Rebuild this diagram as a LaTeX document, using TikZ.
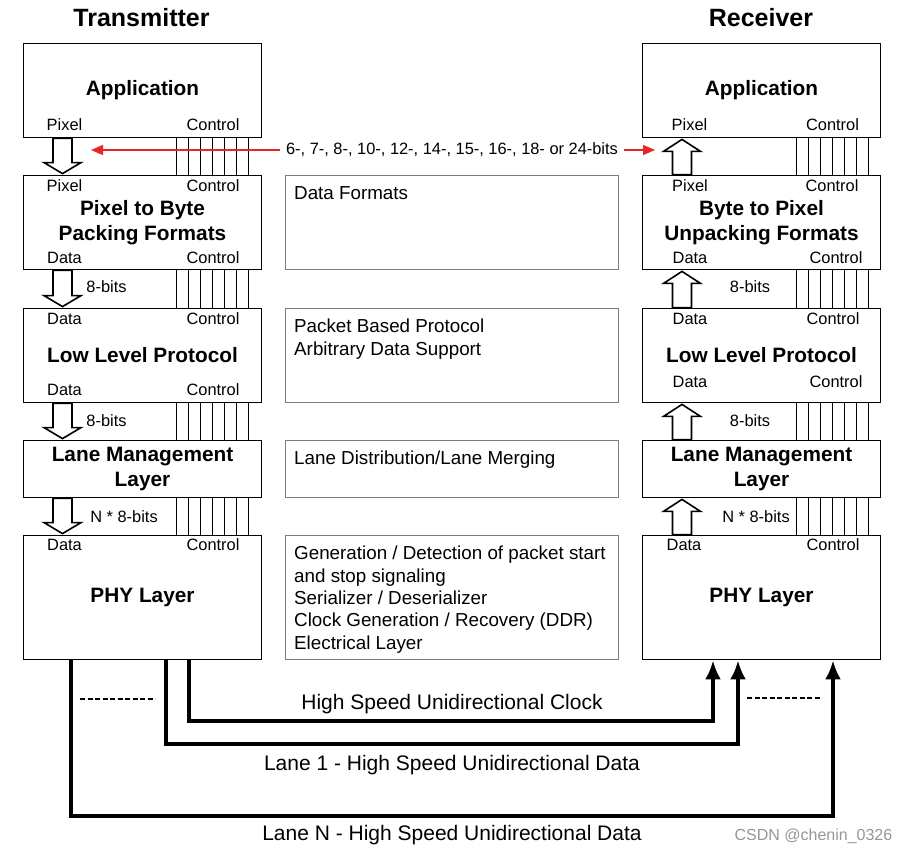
\documentclass[tikz,border=0pt]{standalone}
\usepackage{fontspec}
\setmainfont{Liberation Sans}
\usepackage{tikz}
\usetikzlibrary{positioning}
\usetikzlibrary{calc}
\usetikzlibrary{arrows.meta}
\definecolor{arrowred}{RGB}{232,36,36}
\definecolor{framegray}{RGB}{125,125,125}
\definecolor{markgray}{RGB}{150,150,150}

% hollow block arrows between two layer boxes (#1 column, #2 upper box, #3 lower box)
\newcommand{\bigdown}[3]{%
	\coordinate (ba) at (#2.south -| #1);
	\coordinate (bb) at (#3.north -| #1);
	\draw[blockarr] ([xshift=-9.5pt]ba) -- ([xshift=9.5pt]ba) -- ([xshift=9.5pt,yshift=12pt]bb)
		-- ([xshift=18.5pt,yshift=12pt]bb) -- ([yshift=1pt]bb) -- ([xshift=-18.5pt,yshift=12pt]bb)
		-- ([xshift=-9.5pt,yshift=12pt]bb) -- cycle;}
\newcommand{\bigup}[3]{%
	\coordinate (ba) at (#2.south -| #1);
	\coordinate (bb) at (#3.north -| #1);
	\draw[blockarr] ([xshift=-9.5pt]bb) -- ([xshift=9.5pt]bb) -- ([xshift=9.5pt,yshift=-13pt]ba)
		-- ([xshift=18.5pt,yshift=-13pt]ba) -- ([yshift=-1pt]ba) -- ([xshift=-18.5pt,yshift=-13pt]ba)
		-- ([xshift=-9.5pt,yshift=-13pt]ba) -- cycle;}

\begin{document}
\begin{tikzpicture}[x=1pt,y=-1pt]
	\tikzstyle{layer}=[draw=black, line width=1.8pt, minimum width=238pt, inner sep=0pt, align=center, font=\fontsize{20.8}{25}\selectfont\bfseries]
	\tikzstyle{descbox}=[draw=framegray, line width=1.2pt, minimum width=333pt, inner sep=0pt, anchor=north west]
	\tikzstyle{desc}=[inner sep=0pt, anchor=north west, align=left, font=\fontsize{18.8}{22.3}\selectfont]
	\tikzstyle{lbl}=[inner sep=0pt, font=\fontsize{16.4}{19}\selectfont]
	\tikzstyle{heading}=[font=\fontsize{25}{30}\selectfont\bfseries]
	\tikzstyle{blockarr}=[draw=black, fill=white, line width=1.6pt]
	\tikzstyle{bus}=[line width=0.9pt]
	\tikzstyle{redarr}=[draw=arrowred, line width=1.2pt, -{Triangle[length=12pt,width=10pt]}]
	\tikzstyle{lane}=[line width=3.6pt, -{Latex[length=19pt,width=16pt]}]
	\tikzstyle{lanelbl}=[inner sep=0pt, font=\fontsize{21}{25}\selectfont]
	\tikzstyle{dotline}=[line width=1.8pt, dash pattern=on 5pt off 2.5pt]
	
	\useasboundingbox (0,0) rectangle (908,854);
	\fill[white] (0,0) rectangle (908,854);
	
	\node[heading] (ttitle) at (141.5,18) {Transmitter};
	\node[heading] (rtitle) at (761,18) {Receiver};
	
	% transmitter side
	\node[layer, minimum height=94pt] (tapp) at (142.5,90.5) {Application};
	\node[layer, minimum height=94pt] (tpack) at (142.5,222.5) {Pixel to Byte\\Packing Formats};
	\node[layer, minimum height=94pt] (tllp) at (142.5,355.5) {Low Level Protocol};
	\node[layer, minimum height=57pt] (tlane) at (142.5,469) {Lane Management\\Layer};
	\node[layer, minimum height=124pt] (tphy) at (142.5,597.5) {PHY Layer};
	
	\node[lbl] (tapppix) at (64.5,125) {Pixel};
	\node[lbl] (tappctl) at (213,125) {Control};
	\node[lbl] (tpackpix) at (64.5,186) {Pixel};
	\node[lbl] (tpackctl) at (213,186) {Control};
	\node[lbl] (tpackdat) at (64.5,258) {Data};
	\node[lbl] (tpackctl2) at (213,258) {Control};
	\node[lbl] (tllpdat) at (64.5,319) {Data};
	\node[lbl] (tllpctl) at (213,319) {Control};
	\node[lbl] (tllpdat2) at (64.5,390) {Data};
	\node[lbl] (tllpctl2) at (213,390) {Control};
	\node[lbl] (tphydat) at (64.5,545) {Data};
	\node[lbl] (tphyctl) at (213,545) {Control};
	
	% receiver side
	\node[layer, minimum height=94pt] (rapp) at (761.5,90.5) {Application};
	\node[layer, minimum height=94pt] (rpack) at (761.5,222.5) {Byte to Pixel\\Unpacking Formats};
	\node[layer, minimum height=94pt] (rllp) at (761.5,355.5) {Low Level Protocol};
	\node[layer, minimum height=57pt] (rlane) at (761.5,469) {Lane Management\\Layer};
	\node[layer, minimum height=124pt] (rphy) at (761.5,597.5) {PHY Layer};
	
	\node[lbl] (rapppix) at (689.5,125) {Pixel};
	\node[lbl] (rappctl) at (832.5,125) {Control};
	\node[lbl] (rpackpix) at (690,186) {Pixel};
	\node[lbl] (rpackctl) at (832,186) {Control};
	\node[lbl] (rpackdat) at (690,258) {Data};
	\node[lbl] (rpackctl2) at (836,258) {Control};
	\node[lbl] (rllpdat) at (690,319) {Data};
	\node[lbl] (rllpctl) at (833,319) {Control};
	\node[lbl] (rllpdat2) at (690,382) {Data};
	\node[lbl] (rllpctl2) at (836,382) {Control};
	\node[lbl] (rphydat) at (684,545) {Data};
	\node[lbl] (rphyctl) at (833,545) {Control};
	
	% middle descriptions
	\node[descbox, minimum height=94pt] (dfmt) at (285,175) {};
	\node[desc, below right=11pt and 9pt of dfmt.north west] (dfmttxt) {Data Formats};
	\node[descbox, minimum height=94pt] (dpkt) at (285,308) {};
	\node[desc, below right=11pt and 9pt of dpkt.north west] (dpkttxt) {Packet Based Protocol\\Arbitrary Data Support};
	\node[descbox, minimum height=57pt] (ddist) at (285,440) {};
	\node[desc, below right=11pt and 9pt of ddist.north west] (ddisttxt) {Lane Distribution/Lane Merging};
	\node[descbox, minimum height=124pt] (dphy) at (285,535) {};
	\node[desc, below right=11pt and 9pt of dphy.north west] (dphytxt) {Generation / Detection of packet start\\and stop signaling\\Serializer / Deserializer\\Clock Generation / Recovery (DDR)\\Electrical Layer};
	
	% control buses
	\foreach \hi/\lo in {tapp/tpack,tpack/tllp,tllp/tlane,tlane/tphy}
		\foreach \i in {0,...,6}
			\draw[bus] ($(\hi.south)+({33.5+12*\i},0)$) -- ($(\lo.north)+({33.5+12*\i},0)$);
	\foreach \hi/\lo in {rapp/rpack,rpack/rllp,rllp/rlane,rlane/rphy}
		\foreach \i in {0,...,6}
			\draw[bus] ($(\hi.south)+({34.5+12*\i},0)$) -- ($(\lo.north)+({34.5+12*\i},0)$);
	
	% data paths
	\coordinate (tcol) at (62.5,0);
	\coordinate (rcol) at (682,0);
	\bigdown{tcol}{tapp}{tpack}
	\bigdown{tcol}{tpack}{tllp}
	\bigdown{tcol}{tllp}{tlane}
	\bigdown{tcol}{tlane}{tphy}
	\bigup{rcol}{rapp}{rpack}
	\bigup{rcol}{rpack}{rllp}
	\bigup{rcol}{rllp}{rlane}
	\bigup{rcol}{rlane}{rphy}
	
	\node[lbl] (tbits1) at (106.5,287) {8-bits};
	\node[lbl] (tbits2) at (106.5,421) {8-bits};
	\node[lbl] (tbits3) at (124,517) {N * 8-bits};
	\node[lbl] (rbits1) at (750,287) {8-bits};
	\node[lbl] (rbits2) at (750,421) {8-bits};
	\node[lbl] (rbits3) at (756,517) {N * 8-bits};
	
	% pixel widths
	\node[lbl, inner xsep=6pt] (bits) at (452,150) {6-, 7-, 8-, 10-, 12-, 14-, 15-, 16-, 18- or 24-bits};
	\coordinate (bitsl) at (91,150);
	\coordinate (bitsr) at (655,150);
	\draw[redarr] (bits.west) -- (bitsl);
	\draw[redarr] (bits.east) -- (bitsr);
	
	% high speed lanes
	\coordinate (clkl) at (189,721);
	\coordinate (clkr) at (713,721);
	\coordinate (onel) at (166,744);
	\coordinate (oner) at (738,744);
	\coordinate (nl) at (71,816);
	\coordinate (nr) at (833,816);
	\draw[lane] (tphy.south -| clkl) -- (clkl) -- (clkr) -- (rphy.south -| clkr);
	\draw[lane] (tphy.south -| onel) -- (onel) -- (oner) -- (rphy.south -| oner);
	\draw[lane] (tphy.south -| nl) -- (nl) -- (nr) -- (rphy.south -| nr);
	
	\node[lanelbl] (clklbl) at (452,704) {High Speed Unidirectional Clock};
	\node[lanelbl] (onelbl) at (452,765) {Lane 1 - High Speed Unidirectional Data};
	\node[lanelbl] (nlbl) at (452,835) {Lane N - High Speed Unidirectional Data};
	
	\coordinate (dotl1) at (80,699);
	\coordinate (dotl2) at (155,699);
	\coordinate (dotr1) at (747,698);
	\coordinate (dotr2) at (822,698);
	\draw[dotline] (dotl1) -- (dotl2);
	\draw[dotline] (dotr1) -- (dotr2);
	
	\node[lbl, font=\fontsize{16}{19}\selectfont, text=markgray] (mark) at (813.5,836) {CSDN @chenin\_0326};
\end{tikzpicture}
\end{document}
